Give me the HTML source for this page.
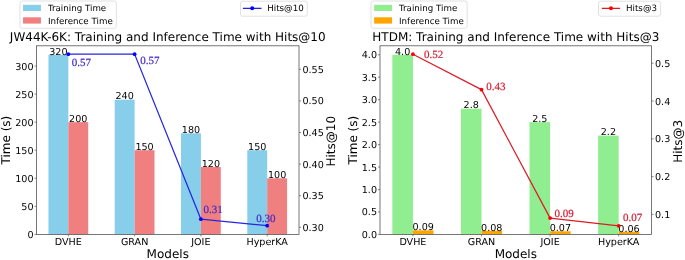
<!DOCTYPE html>
<html><head><meta charset="utf-8"><title>Training and Inference Time with Hits</title>
<style>
html,body{margin:0;padding:0;background:#fff;}
body{width:685px;height:260px;overflow:hidden;}
svg{display:block;}
text{white-space:pre;text-rendering:geometricPrecision;}
</style></head>
<body>
<svg width="685" height="260" viewBox="0 0 685 260">
<rect width="685" height="260" fill="#fff"/>
<rect x="48.43" y="54.78" width="19.89" height="179.62" fill="#87CEEB"/>
<rect x="68.32" y="122.14" width="19.89" height="112.26" fill="#F08080"/>
<rect x="114.72" y="99.69" width="19.89" height="134.71" fill="#87CEEB"/>
<rect x="134.61" y="150.2" width="19.89" height="84.2" fill="#F08080"/>
<rect x="181.01" y="133.36" width="19.89" height="101.04" fill="#87CEEB"/>
<rect x="200.89" y="167.04" width="19.89" height="67.36" fill="#F08080"/>
<rect x="247.3" y="150.2" width="19.89" height="84.2" fill="#87CEEB"/>
<rect x="267.18" y="178.27" width="19.89" height="56.13" fill="#F08080"/>
<text x="58.38" y="54.58" font-size="9.6" text-anchor="middle" fill="#000" font-family="'DejaVu Sans', 'Liberation Sans', sans-serif">320</text>
<text x="78.26" y="121.94" font-size="9.6" text-anchor="middle" fill="#000" font-family="'DejaVu Sans', 'Liberation Sans', sans-serif">200</text>
<text x="124.66" y="99.49" font-size="9.6" text-anchor="middle" fill="#000" font-family="'DejaVu Sans', 'Liberation Sans', sans-serif">240</text>
<text x="144.55" y="150" font-size="9.6" text-anchor="middle" fill="#000" font-family="'DejaVu Sans', 'Liberation Sans', sans-serif">150</text>
<text x="190.95" y="133.16" font-size="9.6" text-anchor="middle" fill="#000" font-family="'DejaVu Sans', 'Liberation Sans', sans-serif">180</text>
<text x="210.84" y="166.84" font-size="9.6" text-anchor="middle" fill="#000" font-family="'DejaVu Sans', 'Liberation Sans', sans-serif">120</text>
<text x="257.24" y="150" font-size="9.6" text-anchor="middle" fill="#000" font-family="'DejaVu Sans', 'Liberation Sans', sans-serif">150</text>
<text x="277.12" y="178.07" font-size="9.6" text-anchor="middle" fill="#000" font-family="'DejaVu Sans', 'Liberation Sans', sans-serif">100</text>
<polyline points="68.32,54.13 134.61,54.13 200.89,219.21 267.18,225.72" fill="none" stroke="#2525e0" stroke-width="1.25" stroke-linejoin="round"/>
<circle cx="68.32" cy="54.13" r="1.9" fill="#0000FF"/>
<circle cx="134.61" cy="54.13" r="1.9" fill="#0000FF"/>
<circle cx="200.89" cy="219.21" r="1.9" fill="#0000FF"/>
<circle cx="267.18" cy="225.72" r="1.9" fill="#0000FF"/>
<text x="71.66" y="65.8" font-size="11" text-anchor="start" fill="#4528c8" font-family="'Liberation Serif', 'Times New Roman', serif" stroke="#4528c8" stroke-width="0.2">0.57</text>
<text x="140.36" y="63.5" font-size="11" text-anchor="start" fill="#4528c8" font-family="'Liberation Serif', 'Times New Roman', serif" stroke="#4528c8" stroke-width="0.2">0.57</text>
<text x="203.56" y="213.2" font-size="11" text-anchor="start" fill="#4528c8" font-family="'Liberation Serif', 'Times New Roman', serif" stroke="#4528c8" stroke-width="0.2">0.31</text>
<text x="256.36" y="222.1" font-size="11" text-anchor="start" fill="#4528c8" font-family="'Liberation Serif', 'Times New Roman', serif" stroke="#4528c8" stroke-width="0.2">0.30</text>
<rect x="36.5" y="45.8" width="262.5" height="188.6" fill="none" stroke="#555" stroke-width="0.8"/>
<line x1="34.5" y1="234.4" x2="36.5" y2="234.4" stroke="#555" stroke-width="0.7"/>
<text x="33.5" y="237.9" font-size="9.6" text-anchor="end" fill="#000" font-family="'DejaVu Sans', 'Liberation Sans', sans-serif">0</text>
<line x1="34.5" y1="206.33" x2="36.5" y2="206.33" stroke="#555" stroke-width="0.7"/>
<text x="33.5" y="209.83" font-size="9.6" text-anchor="end" fill="#000" font-family="'DejaVu Sans', 'Liberation Sans', sans-serif">50</text>
<line x1="34.5" y1="178.27" x2="36.5" y2="178.27" stroke="#555" stroke-width="0.7"/>
<text x="33.5" y="181.77" font-size="9.6" text-anchor="end" fill="#000" font-family="'DejaVu Sans', 'Liberation Sans', sans-serif">100</text>
<line x1="34.5" y1="150.2" x2="36.5" y2="150.2" stroke="#555" stroke-width="0.7"/>
<text x="33.5" y="153.7" font-size="9.6" text-anchor="end" fill="#000" font-family="'DejaVu Sans', 'Liberation Sans', sans-serif">150</text>
<line x1="34.5" y1="122.14" x2="36.5" y2="122.14" stroke="#555" stroke-width="0.7"/>
<text x="33.5" y="125.64" font-size="9.6" text-anchor="end" fill="#000" font-family="'DejaVu Sans', 'Liberation Sans', sans-serif">200</text>
<line x1="34.5" y1="94.07" x2="36.5" y2="94.07" stroke="#555" stroke-width="0.7"/>
<text x="33.5" y="97.57" font-size="9.6" text-anchor="end" fill="#000" font-family="'DejaVu Sans', 'Liberation Sans', sans-serif">250</text>
<line x1="34.5" y1="66.01" x2="36.5" y2="66.01" stroke="#555" stroke-width="0.7"/>
<text x="33.5" y="69.51" font-size="9.6" text-anchor="end" fill="#000" font-family="'DejaVu Sans', 'Liberation Sans', sans-serif">300</text>
<line x1="299" y1="227.3" x2="301" y2="227.3" stroke="#555" stroke-width="0.7"/>
<text x="302.4" y="230.8" font-size="9.6" text-anchor="start" fill="#000" font-family="'DejaVu Sans', 'Liberation Sans', sans-serif">0.30</text>
<line x1="299" y1="195.7" x2="301" y2="195.7" stroke="#555" stroke-width="0.7"/>
<text x="302.4" y="199.2" font-size="9.6" text-anchor="start" fill="#000" font-family="'DejaVu Sans', 'Liberation Sans', sans-serif">0.35</text>
<line x1="299" y1="164.1" x2="301" y2="164.1" stroke="#555" stroke-width="0.7"/>
<text x="302.4" y="167.6" font-size="9.6" text-anchor="start" fill="#000" font-family="'DejaVu Sans', 'Liberation Sans', sans-serif">0.40</text>
<line x1="299" y1="132.5" x2="301" y2="132.5" stroke="#555" stroke-width="0.7"/>
<text x="302.4" y="136" font-size="9.6" text-anchor="start" fill="#000" font-family="'DejaVu Sans', 'Liberation Sans', sans-serif">0.45</text>
<line x1="299" y1="100.9" x2="301" y2="100.9" stroke="#555" stroke-width="0.7"/>
<text x="302.4" y="104.4" font-size="9.6" text-anchor="start" fill="#000" font-family="'DejaVu Sans', 'Liberation Sans', sans-serif">0.50</text>
<line x1="299" y1="69.3" x2="301" y2="69.3" stroke="#555" stroke-width="0.7"/>
<text x="302.4" y="72.8" font-size="9.6" text-anchor="start" fill="#000" font-family="'DejaVu Sans', 'Liberation Sans', sans-serif">0.55</text>
<line x1="68.32" y1="234.4" x2="68.32" y2="236.4" stroke="#555" stroke-width="0.7"/>
<text x="68.32" y="244.8" font-size="9.6" text-anchor="middle" fill="#000" font-family="'DejaVu Sans', 'Liberation Sans', sans-serif">DVHE</text>
<line x1="134.61" y1="234.4" x2="134.61" y2="236.4" stroke="#555" stroke-width="0.7"/>
<text x="134.61" y="244.8" font-size="9.6" text-anchor="middle" fill="#000" font-family="'DejaVu Sans', 'Liberation Sans', sans-serif">GRAN</text>
<line x1="200.89" y1="234.4" x2="200.89" y2="236.4" stroke="#555" stroke-width="0.7"/>
<text x="200.89" y="244.8" font-size="9.6" text-anchor="middle" fill="#000" font-family="'DejaVu Sans', 'Liberation Sans', sans-serif">JOIE</text>
<line x1="267.18" y1="234.4" x2="267.18" y2="236.4" stroke="#555" stroke-width="0.7"/>
<text x="267.18" y="244.8" font-size="9.6" text-anchor="middle" fill="#000" font-family="'DejaVu Sans', 'Liberation Sans', sans-serif">HyperKA</text>
<text x="167.75" y="40.7" font-size="12" text-anchor="middle" fill="#000" font-family="'DejaVu Sans', 'Liberation Sans', sans-serif">JW44K-6K: Training and Inference Time with Hits@10</text>
<text x="167.75" y="258.1" font-size="12" text-anchor="middle" fill="#000" font-family="'DejaVu Sans', 'Liberation Sans', sans-serif">Models</text>
<text x="10.1" y="140.15" font-size="12" text-anchor="middle" fill="#000" font-family="'DejaVu Sans', 'Liberation Sans', sans-serif" transform="rotate(-90 10.1 140.15)">Time (s)</text>
<text x="335.4" y="141.2" font-size="12" text-anchor="middle" fill="#000" font-family="'DejaVu Sans', 'Liberation Sans', sans-serif" transform="rotate(-90 335.4 141.2)">Hits@10</text>
<rect x="19.9" y="1" width="96.4" height="27.3" rx="2.2" fill="#fff" fill-opacity="0.8" stroke="#d9d9d9" stroke-width="0.8"/>
<rect x="23.05" y="4.8" width="17.9" height="6.2" fill="#87CEEB"/>
<rect x="23.05" y="17.3" width="17.9" height="6.3" fill="#F08080"/>
<text x="47.9" y="11" font-size="8.7" text-anchor="start" fill="#000" font-family="'DejaVu Sans', 'Liberation Sans', sans-serif">Training Time</text>
<text x="47.9" y="23.6" font-size="8.7" text-anchor="start" fill="#000" font-family="'DejaVu Sans', 'Liberation Sans', sans-serif">Inference Time</text>
<rect x="240.5" y="1.2" width="66.8" height="15" rx="2.2" fill="#fff" fill-opacity="0.8" stroke="#d9d9d9" stroke-width="0.8"/>
<line x1="242.9" y1="8.35" x2="261.5" y2="8.35" stroke="#2525e0" stroke-width="1.25"/>
<circle cx="252.2" cy="8.35" r="2.0" fill="#0000FF"/>
<text x="267.2" y="11.2" font-size="8.7" text-anchor="start" fill="#000" font-family="'DejaVu Sans', 'Liberation Sans', sans-serif">Hits@10</text>
<rect x="392.35" y="54.78" width="20.58" height="179.62" fill="#90EE90"/>
<rect x="412.92" y="230.36" width="20.58" height="4.04" fill="#FFA500"/>
<rect x="460.93" y="108.67" width="20.58" height="125.73" fill="#90EE90"/>
<rect x="481.51" y="230.81" width="20.58" height="3.59" fill="#FFA500"/>
<rect x="529.52" y="122.14" width="20.58" height="112.26" fill="#90EE90"/>
<rect x="550.09" y="231.26" width="20.58" height="3.14" fill="#FFA500"/>
<rect x="598.1" y="135.61" width="20.58" height="98.79" fill="#90EE90"/>
<rect x="618.68" y="231.71" width="20.58" height="2.69" fill="#FFA500"/>
<text x="402.63" y="54.58" font-size="9.6" text-anchor="middle" fill="#000" font-family="'DejaVu Sans', 'Liberation Sans', sans-serif">4.0</text>
<text x="423.21" y="230.16" font-size="9.6" text-anchor="middle" fill="#000" font-family="'DejaVu Sans', 'Liberation Sans', sans-serif">0.09</text>
<text x="471.22" y="108.47" font-size="9.6" text-anchor="middle" fill="#000" font-family="'DejaVu Sans', 'Liberation Sans', sans-serif">2.8</text>
<text x="491.79" y="230.61" font-size="9.6" text-anchor="middle" fill="#000" font-family="'DejaVu Sans', 'Liberation Sans', sans-serif">0.08</text>
<text x="539.81" y="121.94" font-size="9.6" text-anchor="middle" fill="#000" font-family="'DejaVu Sans', 'Liberation Sans', sans-serif">2.5</text>
<text x="560.38" y="231.06" font-size="9.6" text-anchor="middle" fill="#000" font-family="'DejaVu Sans', 'Liberation Sans', sans-serif">0.07</text>
<text x="608.39" y="135.41" font-size="9.6" text-anchor="middle" fill="#000" font-family="'DejaVu Sans', 'Liberation Sans', sans-serif">2.2</text>
<text x="628.97" y="231.51" font-size="9.6" text-anchor="middle" fill="#000" font-family="'DejaVu Sans', 'Liberation Sans', sans-serif">0.06</text>
<polyline points="412.92,54.2 481.51,89.66 550.09,218.1 618.68,225.82" fill="none" stroke="#dc1c28" stroke-width="1.25" stroke-linejoin="round"/>
<circle cx="412.92" cy="54.2" r="1.9" fill="#FF0000"/>
<circle cx="481.51" cy="89.66" r="1.9" fill="#FF0000"/>
<circle cx="550.09" cy="218.1" r="1.9" fill="#FF0000"/>
<circle cx="618.68" cy="225.82" r="1.9" fill="#FF0000"/>
<text x="424.06" y="57.5" font-size="11" text-anchor="start" fill="#d42035" font-family="'Liberation Serif', 'Times New Roman', serif" stroke="#d42035" stroke-width="0.2">0.52</text>
<text x="486.26" y="90.3" font-size="11" text-anchor="start" fill="#d42035" font-family="'Liberation Serif', 'Times New Roman', serif" stroke="#d42035" stroke-width="0.2">0.43</text>
<text x="554.56" y="216.5" font-size="11" text-anchor="start" fill="#d42035" font-family="'Liberation Serif', 'Times New Roman', serif" stroke="#d42035" stroke-width="0.2">0.09</text>
<text x="623.06" y="220.6" font-size="11" text-anchor="start" fill="#d42035" font-family="'Liberation Serif', 'Times New Roman', serif" stroke="#d42035" stroke-width="0.2">0.07</text>
<rect x="380" y="45.8" width="271.6" height="188.6" fill="none" stroke="#555" stroke-width="0.8"/>
<line x1="378" y1="234.4" x2="380" y2="234.4" stroke="#555" stroke-width="0.7"/>
<text x="377" y="237.9" font-size="9.6" text-anchor="end" fill="#000" font-family="'DejaVu Sans', 'Liberation Sans', sans-serif">0.0</text>
<line x1="378" y1="211.95" x2="380" y2="211.95" stroke="#555" stroke-width="0.7"/>
<text x="377" y="215.45" font-size="9.6" text-anchor="end" fill="#000" font-family="'DejaVu Sans', 'Liberation Sans', sans-serif">0.5</text>
<line x1="378" y1="189.5" x2="380" y2="189.5" stroke="#555" stroke-width="0.7"/>
<text x="377" y="193" font-size="9.6" text-anchor="end" fill="#000" font-family="'DejaVu Sans', 'Liberation Sans', sans-serif">1.0</text>
<line x1="378" y1="167.04" x2="380" y2="167.04" stroke="#555" stroke-width="0.7"/>
<text x="377" y="170.54" font-size="9.6" text-anchor="end" fill="#000" font-family="'DejaVu Sans', 'Liberation Sans', sans-serif">1.5</text>
<line x1="378" y1="144.59" x2="380" y2="144.59" stroke="#555" stroke-width="0.7"/>
<text x="377" y="148.09" font-size="9.6" text-anchor="end" fill="#000" font-family="'DejaVu Sans', 'Liberation Sans', sans-serif">2.0</text>
<line x1="378" y1="122.14" x2="380" y2="122.14" stroke="#555" stroke-width="0.7"/>
<text x="377" y="125.64" font-size="9.6" text-anchor="end" fill="#000" font-family="'DejaVu Sans', 'Liberation Sans', sans-serif">2.5</text>
<line x1="378" y1="99.69" x2="380" y2="99.69" stroke="#555" stroke-width="0.7"/>
<text x="377" y="103.19" font-size="9.6" text-anchor="end" fill="#000" font-family="'DejaVu Sans', 'Liberation Sans', sans-serif">3.0</text>
<line x1="378" y1="77.23" x2="380" y2="77.23" stroke="#555" stroke-width="0.7"/>
<text x="377" y="80.73" font-size="9.6" text-anchor="end" fill="#000" font-family="'DejaVu Sans', 'Liberation Sans', sans-serif">3.5</text>
<line x1="378" y1="54.78" x2="380" y2="54.78" stroke="#555" stroke-width="0.7"/>
<text x="377" y="58.28" font-size="9.6" text-anchor="end" fill="#000" font-family="'DejaVu Sans', 'Liberation Sans', sans-serif">4.0</text>
<line x1="651.6" y1="214.4" x2="653.6" y2="214.4" stroke="#555" stroke-width="0.7"/>
<text x="655" y="217.9" font-size="9.6" text-anchor="start" fill="#000" font-family="'DejaVu Sans', 'Liberation Sans', sans-serif">0.1</text>
<line x1="651.6" y1="176.6" x2="653.6" y2="176.6" stroke="#555" stroke-width="0.7"/>
<text x="655" y="180.1" font-size="9.6" text-anchor="start" fill="#000" font-family="'DejaVu Sans', 'Liberation Sans', sans-serif">0.2</text>
<line x1="651.6" y1="138.8" x2="653.6" y2="138.8" stroke="#555" stroke-width="0.7"/>
<text x="655" y="142.3" font-size="9.6" text-anchor="start" fill="#000" font-family="'DejaVu Sans', 'Liberation Sans', sans-serif">0.3</text>
<line x1="651.6" y1="101" x2="653.6" y2="101" stroke="#555" stroke-width="0.7"/>
<text x="655" y="104.5" font-size="9.6" text-anchor="start" fill="#000" font-family="'DejaVu Sans', 'Liberation Sans', sans-serif">0.4</text>
<line x1="651.6" y1="63.2" x2="653.6" y2="63.2" stroke="#555" stroke-width="0.7"/>
<text x="655" y="66.7" font-size="9.6" text-anchor="start" fill="#000" font-family="'DejaVu Sans', 'Liberation Sans', sans-serif">0.5</text>
<line x1="412.92" y1="234.4" x2="412.92" y2="236.4" stroke="#555" stroke-width="0.7"/>
<text x="412.92" y="244.8" font-size="9.6" text-anchor="middle" fill="#000" font-family="'DejaVu Sans', 'Liberation Sans', sans-serif">DVHE</text>
<line x1="481.51" y1="234.4" x2="481.51" y2="236.4" stroke="#555" stroke-width="0.7"/>
<text x="481.51" y="244.8" font-size="9.6" text-anchor="middle" fill="#000" font-family="'DejaVu Sans', 'Liberation Sans', sans-serif">GRAN</text>
<line x1="550.09" y1="234.4" x2="550.09" y2="236.4" stroke="#555" stroke-width="0.7"/>
<text x="550.09" y="244.8" font-size="9.6" text-anchor="middle" fill="#000" font-family="'DejaVu Sans', 'Liberation Sans', sans-serif">JOIE</text>
<line x1="618.68" y1="234.4" x2="618.68" y2="236.4" stroke="#555" stroke-width="0.7"/>
<text x="618.68" y="244.8" font-size="9.6" text-anchor="middle" fill="#000" font-family="'DejaVu Sans', 'Liberation Sans', sans-serif">HyperKA</text>
<text x="515.8" y="40.7" font-size="12" text-anchor="middle" fill="#000" font-family="'DejaVu Sans', 'Liberation Sans', sans-serif">HTDM: Training and Inference Time with Hits@3</text>
<text x="515.8" y="258.1" font-size="12" text-anchor="middle" fill="#000" font-family="'DejaVu Sans', 'Liberation Sans', sans-serif">Models</text>
<text x="356.6" y="140.15" font-size="12" text-anchor="middle" fill="#000" font-family="'DejaVu Sans', 'Liberation Sans', sans-serif" transform="rotate(-90 356.6 140.15)">Time (s)</text>
<text x="681.6" y="141.3" font-size="12" text-anchor="middle" fill="#000" font-family="'DejaVu Sans', 'Liberation Sans', sans-serif" transform="rotate(-90 681.6 141.3)">Hits@3</text>
<rect x="371" y="1" width="96.1" height="27.3" rx="2.2" fill="#fff" fill-opacity="0.8" stroke="#d9d9d9" stroke-width="0.8"/>
<rect x="374.15" y="4.8" width="17.9" height="6.2" fill="#90EE90"/>
<rect x="374.15" y="17.3" width="17.9" height="6.3" fill="#FFA500"/>
<text x="399" y="11" font-size="8.7" text-anchor="start" fill="#000" font-family="'DejaVu Sans', 'Liberation Sans', sans-serif">Training Time</text>
<text x="399" y="23.6" font-size="8.7" text-anchor="start" fill="#000" font-family="'DejaVu Sans', 'Liberation Sans', sans-serif">Inference Time</text>
<rect x="598.5" y="1.2" width="62.1" height="15" rx="2.2" fill="#fff" fill-opacity="0.8" stroke="#d9d9d9" stroke-width="0.8"/>
<line x1="601.8" y1="8.35" x2="620.1" y2="8.35" stroke="#dc1c28" stroke-width="1.25"/>
<circle cx="611" cy="8.35" r="2.0" fill="#FF0000"/>
<text x="626" y="11.2" font-size="8.7" text-anchor="start" fill="#000" font-family="'DejaVu Sans', 'Liberation Sans', sans-serif">Hits@3</text>
</svg>
</body></html>
